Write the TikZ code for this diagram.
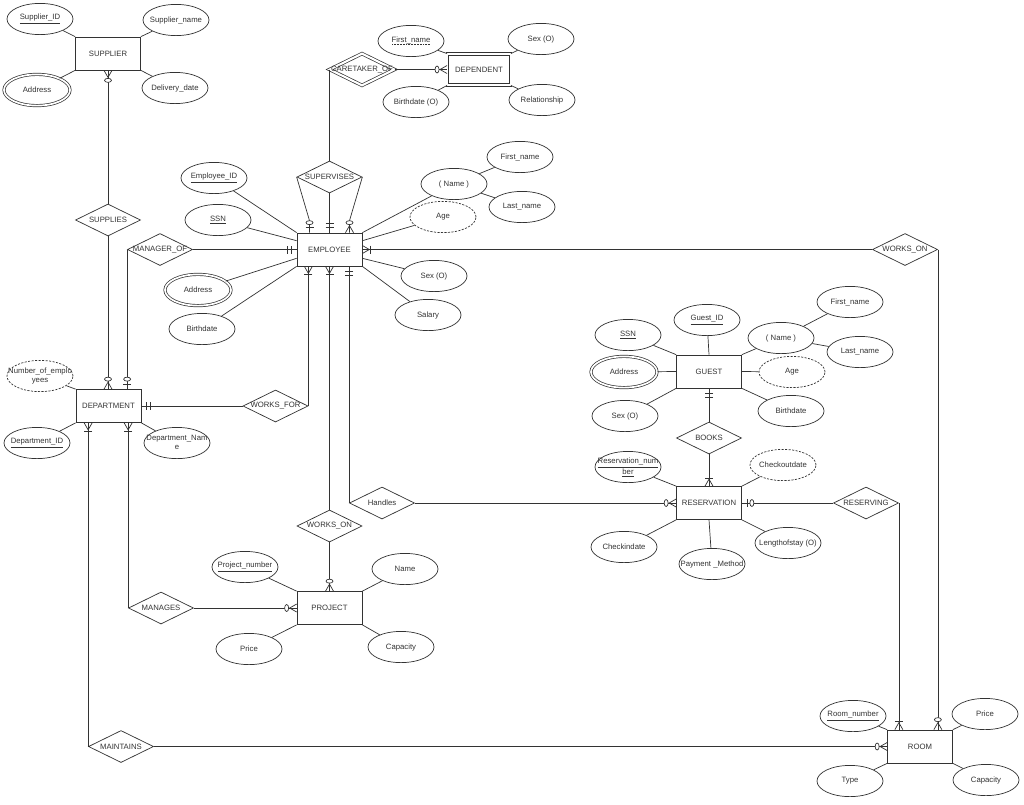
\documentclass[tikz,border=0pt]{standalone}
\usepackage{fontspec}
\setmainfont{Liberation Sans}
\usepackage{tikz}
\usetikzlibrary{shapes.geometric, calc}

% dotted underline for the partial key of a weak entity
\newcommand{\partkey}[1]{\setbox0=\hbox{#1}\rlap{\raisebox{-1.3pt}{\hbox to \wd0{\xleaders\hbox to 1.1pt{\hss\vrule width 0.55pt height 0.3pt\hss}\hfill}}}\box0}

\begin{document}
\begin{tikzpicture}[
    x=0.025cm, y=-0.025cm,
    color=black!80, line width=0.5pt,
    every node/.style={font=\fontsize{5.5}{6.6}\selectfont},
    fixbox/.style={inner sep=0pt, execute at begin node={\hbox to 0pt\bgroup\hss}, execute at end node={\hss\egroup}},
    entity/.style={rectangle, draw, fixbox, minimum width=1.625cm, minimum height=0.825cm},
    weakentity/.style={entity, double, double distance=1.5pt, minimum width=1.58cm, minimum height=0.78cm},
    attr/.style={ellipse, draw, fixbox, minimum width=1.65cm, minimum height=0.78cm},
    multi/.style={attr, double, double distance=1.2pt},
    derived/.style={attr, dash pattern=on 1.5pt off 1pt},
    rel/.style={diamond, draw, fixbox, minimum width=1.625cm, minimum height=0.8cm},
    weakrel/.style={rel, double, double distance=1.5pt},
    zmany/.pic={\draw (0,-4) -- (7,0) -- (0,4); \draw[fill=white] (10,0) ellipse (2 and 3.5);},
    omany/.pic={\draw (0,-4) -- (7,0) -- (0,4); \draw (8,-4) -- (8,4);},
    zone/.pic={\draw (5,-4) -- (5,4); \draw[fill=white] (10,0) ellipse (2 and 3.5);},
    oone/.pic={\draw (5,-4) -- (5,4) (9,-4) -- (9,4);}
]
\fill[white] (0,0) rectangle (1024,804);

% entities
\node[entity] (sup) at (108,53.5) {SUPPLIER};
\node[weakentity] (dep) at (479,69.5) {DEPENDENT};
\node[entity] (emp) at (329.5,249.5) {EMPLOYEE};
\node[entity] (dept) at (108.5,406) {DEPARTMENT};
\node[entity] (proj) at (329.5,608) {PROJECT};
\node[entity] (guest) at (709,371.5) {GUEST};
\node[entity] (res) at (709,503) {RESERVATION};
\node[entity] (room) at (920,746.5) {ROOM};

% relationships
\node[rel] (supplies) at (108,220) {SUPPLIES};
\node[weakrel] (care) at (362,69.5) {CARETAKER\_OF};
\node[rel] (sv) at (329.5,177) {SUPERVISES};
\node[rel] (mgr) at (160,249.5) {MANAGER\_OF};
\node[rel] (wonr) at (905,249.5) {WORKS\_ON};
\node[rel] (wfor) at (275.5,406) {WORKS\_FOR};
\node[rel] (wonp) at (329.5,526) {WORKS\_ON};
\node[rel] (handles) at (382,503) {Handles};
\node[rel] (mgs) at (161,608) {MANAGES};
\node[rel] (mnt) at (121,746.5) {MAINTAINS};
\node[rel] (books) at (709,438) {BOOKS};
\node[rel] (rsv) at (866,503) {RESERVING};

% attributes
\node[attr] (supid) at (40,19) {\underline{Supplier\_ID}};
\node[attr] (supname) at (176,20) {Supplier\_name};
\node[multi] (supaddr) at (37,90) {Address};
\node[attr] (supdel) at (175,88) {Delivery\_date};

\node[attr] (depfn) at (411,41) {\partkey{First\_name}};
\node[attr] (depsex) at (541,39) {Sex (O)};
\node[attr] (depbirth) at (416,102) {Birthdate (O)};
\node[attr] (deprel) at (542,100) {Relationship};

\node[attr] (empid) at (214,178) {\underline{Employee\_ID}};
\node[attr] (empssn) at (218,220) {\underline{SSN}};
\node[multi] (empaddr) at (198,290) {Address};
\node[attr] (empbirth) at (202,329) {Birthdate};
\node[attr] (empname) at (454,184) {( Name )};
\node[attr] (empfirst) at (520,157) {First\_name};
\node[attr] (emplast) at (522,207) {Last\_name};
\node[derived] (empage) at (443,217) {Age};
\node[attr] (empsex) at (434,276) {Sex (O)};
\node[attr] (empsalary) at (428,315) {Salary};

\node[derived] (deptnum) at (40,376) {\begin{tabular}{@{}c@{}}Number\_of\_emplo\\yees\end{tabular}};
\node[attr] (deptid) at (37,443) {\underline{Department\_ID}};
\node[attr] (deptname) at (177,443) {\begin{tabular}{@{}c@{}}Department\_Nam\\e\end{tabular}};

\node[attr] (projnum) at (245,567) {\underline{Project\_number}};
\node[attr] (projname) at (405,569) {Name};
\node[attr] (projprice) at (249,649) {Price};
\node[attr] (projcap) at (401,647) {Capacity};

\node[attr] (guestid) at (707,320) {\underline{Guest\_ID}};
\node[attr] (guestssn) at (628,335) {\underline{SSN}};
\node[multi] (guestaddr) at (624,372) {Address};
\node[attr] (guestsex) at (625,416) {Sex (O)};
\node[attr] (guestname) at (781,338) {( Name )};
\node[attr] (guestfirst) at (850,302) {First\_name};
\node[attr] (guestlast) at (860,352) {Last\_name};
\node[derived] (guestage) at (792,372) {Age};
\node[attr] (guestbirth) at (791,411) {Birthdate};

\node[attr] (resnum) at (628,467) {\begin{tabular}{@{}c@{}}\underline{Reservation\_num}\\\underline{ber}\end{tabular}};
\node[derived] (rescheckout) at (783,465) {Checkoutdate};
\node[attr] (rescheckin) at (624,547) {Checkindate};
\node[attr] (respay) at (712,564) {Payment \_Method};
\node[attr] (reslen) at (788,543) {Lengthofstay (O)};

\node[attr] (roomnum) at (853,716) {\underline{Room\_number}};
\node[attr] (roomprice) at (985,714) {Price};
\node[attr] (roomtype) at (850,781) {Type};
\node[attr] (roomcap) at (986,780) {Capacity};

% attribute links
\draw (sup.north west) -- (supid);
\draw (sup.north east) -- (supname);
\draw (sup.south west) -- (supaddr);
\draw (sup.south east) -- (supdel);
\draw (dep.north west) -- (depfn);
\draw (dep.north east) -- (depsex);
\draw (dep.south west) -- (depbirth);
\draw (dep.south east) -- (deprel);
\draw (emp.north west) -- (empid);
\draw (emp.165) -- (empssn);
\draw (emp.195) -- (empaddr);
\draw (emp.south west) -- (empbirth);
\draw (emp.north east) -- (empname);
\draw (empname) -- (empfirst);
\draw (empname) -- (emplast);
\draw (emp.15) -- (empage);
\draw (emp.-15) -- (empsex);
\draw (emp.south east) -- (empsalary);
\draw (dept.north west) -- (deptnum);
\draw (dept.south west) -- (deptid);
\draw (dept.south east) -- (deptname);
\draw (proj.north west) -- (projnum);
\draw (proj.north east) -- (projname);
\draw (proj.south west) -- (projprice);
\draw (proj.south east) -- (projcap);
\draw (guest.north) -- (guestid);
\draw (guest.north west) -- (guestssn);
\draw (guest.west) -- (guestaddr);
\draw (guest.south west) -- (guestsex);
\draw (guest.north east) -- (guestname);
\draw (guestname) -- (guestfirst);
\draw (guestname) -- (guestlast);
\draw (guest.east) -- (guestage);
\draw (guest.south east) -- (guestbirth);
\draw (res.north west) -- (resnum);
\draw (res.north east) -- (rescheckout);
\draw (res.south west) -- (rescheckin);
\draw (res.south) -- (respay);
\draw (res.south east) -- (reslen);
\draw (room.north west) -- (roomnum);
\draw (room.north east) -- (roomprice);
\draw (room.south west) -- (roomtype);
\draw (room.south east) -- (roomcap);

% relationship links
\draw (sup.south) -- (supplies.north);
\draw (supplies.south) -- (supplies.south |- dept.north);
\pic[rotate=-90] at (sup.south) {zmany};
\pic[rotate=90] at (supplies.south |- dept.north) {zmany};

\draw (care.east) -- (dep.west);
\draw (care.west) -- (care.west |- sv.north);
\pic[rotate=180] at (dep.west) {zmany};

\coordinate (svl) at ($(emp.north)+(-20,0)$);
\coordinate (svr) at ($(emp.north)+(20,0)$);
\draw (sv.west) -- ($(svl)+(0,-12)$) -- (svl);
\draw (sv.south) -- (emp.north);
\draw (sv.east) -- ($(svr)+(0,-12)$) -- (svr);
\pic[rotate=90] at (svl) {zone};
\pic[rotate=90] at (emp.north) {oone};
\pic[rotate=90] at (svr) {zmany};

\draw (mgr.east) -- (emp.west);
\draw (mgr.west) -- (mgr.west |- dept.north);
\pic[rotate=180] at (emp.west) {oone};
\pic[rotate=90] at (mgr.west |- dept.north) {zone};

\draw (emp.east) -- (wonr.west);
\draw (wonr.east) -- (wonr.east |- room.north);
\pic at (emp.east) {omany};
\pic[rotate=90] at (wonr.east |- room.north) {zmany};

\draw (dept.east) -- (wfor.west);
\draw (wfor.east) -- (wfor.east |- emp.south);
\pic at (dept.east) {oone};
\pic[rotate=-90] at (wfor.east |- emp.south) {omany};

\draw (emp.south) -- (wonp.north);
\draw (wonp.south) -- (proj.north);
\pic[rotate=-90] at (emp.south) {omany};
\pic[rotate=90] at (proj.north) {zmany};

\draw (handles.west) -- (handles.west |- emp.south);
\draw (handles.east) -- (res.west);
\pic[rotate=-90] at (handles.west |- emp.south) {oone};
\pic[rotate=180] at (res.west) {zmany};

\draw (mgs.east) -- (proj.west);
\draw (mgs.west) -- (mgs.west |- dept.south);
\pic[rotate=180] at (proj.west) {zmany};
\pic[rotate=-90] at (mgs.west |- dept.south) {omany};

\draw (mnt.east) -- (room.west);
\draw (mnt.west) -- (mnt.west |- dept.south);
\pic[rotate=180] at (room.west) {zmany};
\pic[rotate=-90] at (mnt.west |- dept.south) {omany};

\draw (guest.south) -- (books.north);
\draw (books.south) -- (res.north);
\pic[rotate=-90] at (guest.south) {oone};
\pic[rotate=90] at (res.north) {omany};

\draw (res.east) -- (rsv.west);
\draw (rsv.east) -- (rsv.east |- room.north);
\pic at (res.east) {zone};
\pic[rotate=90] at (rsv.east |- room.north) {omany};

\end{tikzpicture}
\end{document}
